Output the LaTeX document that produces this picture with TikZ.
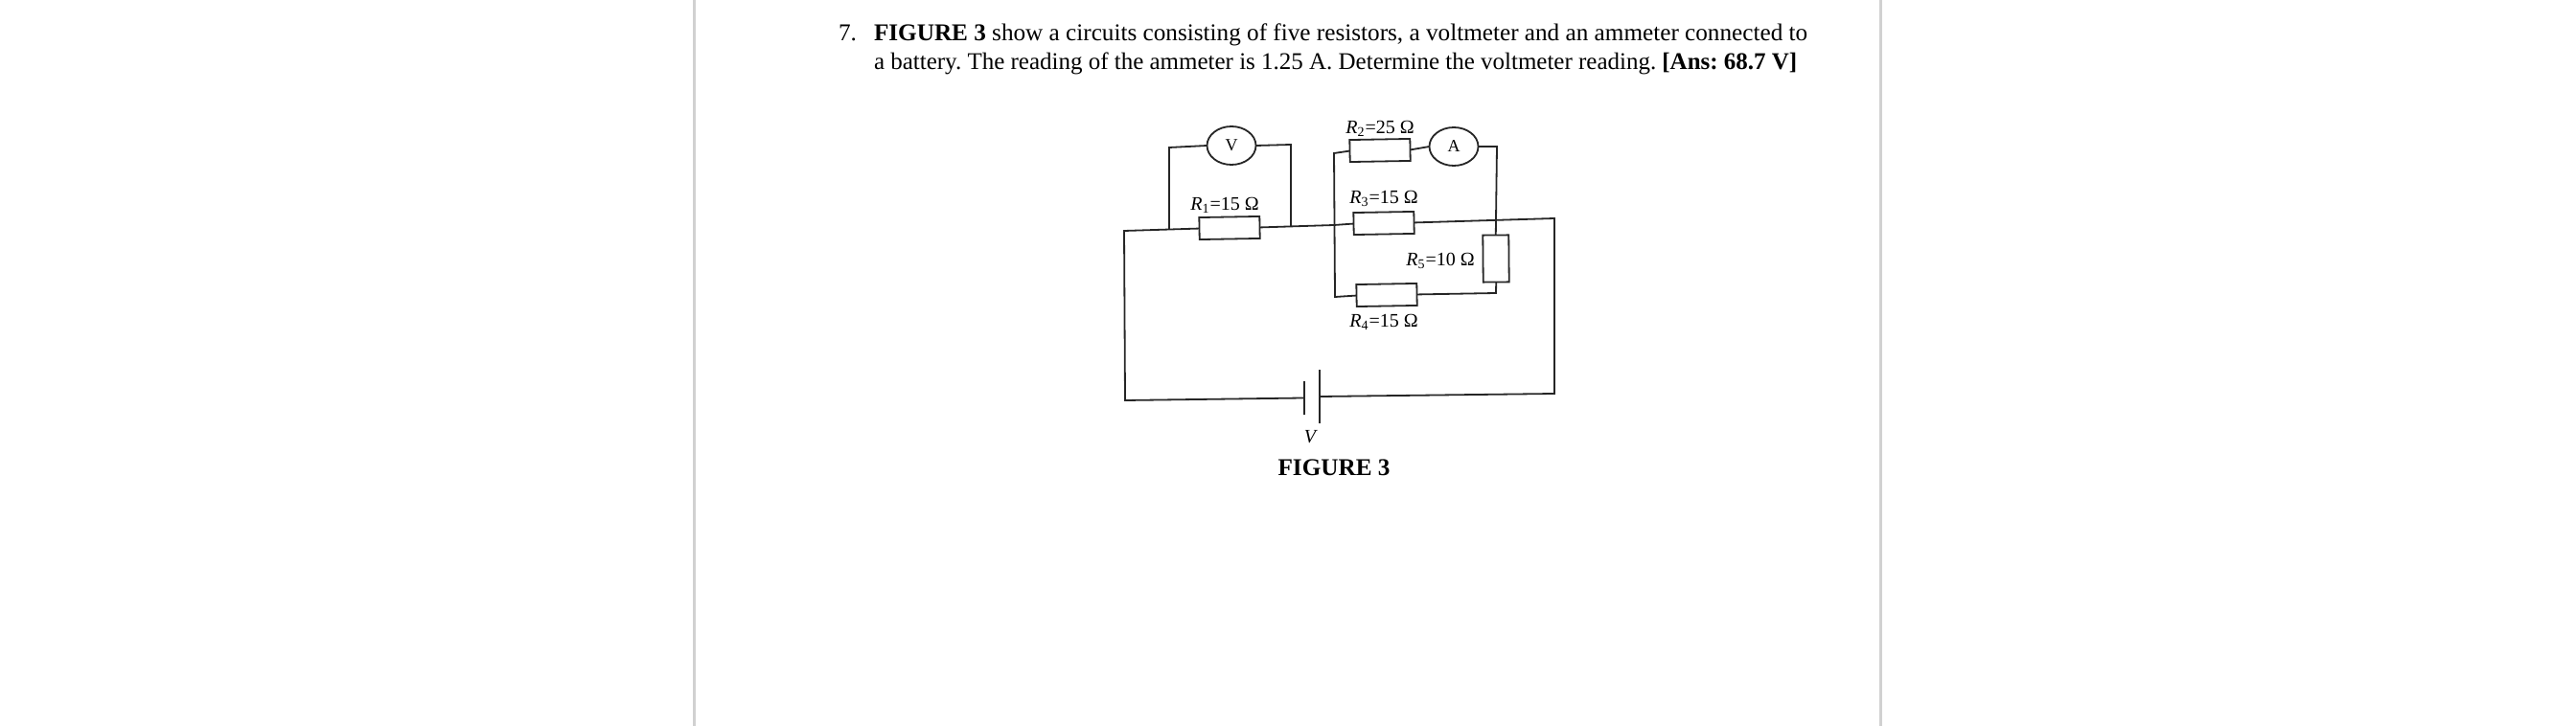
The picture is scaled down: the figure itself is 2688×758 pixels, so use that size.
\documentclass[tikz,border=0pt]{standalone}
\usepackage{fontspec}
\setmainfont{Liberation Serif}
\usetikzlibrary{positioning, shapes.geometric}

\begin{document}
\begin{tikzpicture}[x=0.5pt,y=-0.5pt]
\tikzstyle{every node}=[inner sep=0pt,outer sep=0pt,text=black]
\tikzstyle{resistor}=[draw=black!85,line width=0.9pt,fill=white,minimum width=31.5pt,minimum height=11.5pt,rotate=1]
\tikzstyle{meter}=[draw=black!85,line width=0.9pt,fill=white,ellipse,minimum width=25.5pt,minimum height=20pt,font=\fontsize{9}{11}\selectfont]
\tikzstyle{value}=[font=\fontsize{10}{12}\selectfont]
\tikzstyle{wire}=[draw=black!85,line width=0.9pt]
\tikzstyle{plate}=[fill=black!85,minimum width=0.9pt]
\tikzstyle{question}=[anchor=base west,font=\fontsize{12.6}{15}\selectfont]
\tikzstyle{pagerule}=[fill=black!18,draw=none]

\useasboundingbox (0,0) rectangle (2688,758);
\fill[pagerule] (723,0) rectangle (726,758);
\fill[pagerule] (1961,0) rectangle (1964,758);
\frenchspacing

% question text
\node[question] (num) at (875,43) {7.};
\node[question] (lineA) at (912,43) {\textbf{FIGURE 3} show a circuits consisting of five resistors, a voltmeter and an ammeter connected to};
\node[question,font=\fontsize{12.49}{15}\selectfont] (lineB) at (912,73) {a battery. The reading of the ammeter is 1.25 A. Determine the voltmeter reading. \textbf{[Ans: 68.7 V]}};

% resistors and meters
\node[resistor] (R1) at (1283,238) {};
\node[node distance=80.5pt,right of=R1,yshift=2.5pt,resistor] (R3) {};
\node[node distance=38pt,above of=R3,xshift=-2pt,resistor] (R2) {};
\node[node distance=37.5pt,below of=R3,xshift=1.5pt,resistor] (R4) {};
\node[resistor,rotate=-0.5,minimum width=13.5pt,minimum height=24.5pt] (R5) at (1561,270) {};
\node[meter,node distance=43pt,above of=R1,xshift=1pt] (V) {V};
\node[meter,node distance=38.5pt,right of=R2,yshift=2pt] (A) {A};

% battery
\node[plate,minimum height=17.5pt] (B1) at (1361,415.5) {};
\node[plate,node distance=8pt,right of=B1,yshift=0.75pt,minimum height=28pt] (B2) {};

% labels
\node[value,node distance=12pt,above of=R1,xshift=-2.5pt] (LR1) {\textit{R}\textsubscript{1}=15 Ω};
\node[value,node distance=11.5pt,above of=R2] (LR2) {\textit{R}\textsubscript{2}=25 Ω};
\node[value,node distance=13pt,above of=R3] (LR3) {\textit{R}\textsubscript{3}=15 Ω};
\node[value,node distance=14pt,below of=R4,xshift=-1.5pt] (LR4) {\textit{R}\textsubscript{4}=15 Ω};
\node[value,node distance=29pt,left of=R5,yshift=-1pt] (LR5) {\textit{R}\textsubscript{5}=10 Ω};
\node[value,node distance=21pt,below of=B2,xshift=-4.5pt] (LV) {\textit{V}};
\node[font=\fontsize{12.6}{15}\selectfont\bfseries,node distance=37pt,below of=B2,xshift=7.5pt] (fig) {FIGURE 3};

% corners of the wires
\coordinate (BL) at (1174,418);
\coordinate (TL) at (1173,241);
\coordinate (TR) at (1622,228);
\coordinate (BR) at (1622,411);
\coordinate (J) at (1392,235);
\coordinate (VA) at (1220,240);
\coordinate (VB) at (1220,154);
\coordinate (VC) at (1347,151);
\coordinate (VD) at (1347,237);
\coordinate (UL) at (1392,160);
\coordinate (LL) at (1393,310);
\coordinate (UR) at (1562,153);
\coordinate (LR) at (1561,306);

\draw[wire] (B1.west) -- (BL) -- (TL) -- (R1.west);
\draw[wire] (R1.east) -- (J) -- (R3.west);
\draw[wire] (R3.east) -- (TR) -- (BR) -- (B2.east);
\draw[wire] (VA) -- (VB) -- (V.west);
\draw[wire] (V.east) -- (VC) -- (VD);
\draw[wire] (R2.west) -- (UL) -- (LL) -- (R4.west);
\draw[wire] (R2.east) -- (A.west);
\draw[wire] (A.east) -- (UR) -- (R5.north);
\draw[wire] (R5.south) -- (LR) -- (R4.east);
\end{tikzpicture}
\end{document}
